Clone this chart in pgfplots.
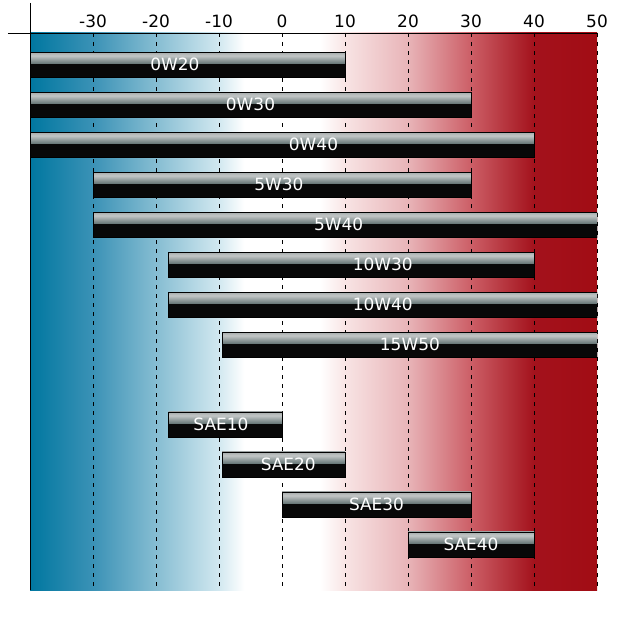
\documentclass[border=0pt]{standalone}
\usepackage{pgfplots}
\pgfplotsset{compat=1.18}
\usepackage{pgfplotstable}
\usepackage{fontspec}
\setmainfont{DejaVu Sans}

\definecolor{cb0}{HTML}{0077A0}
\definecolor{cb1}{HTML}{3B92B6}
\definecolor{cb2}{HTML}{86BDD2}
\definecolor{cb3}{HTML}{D2E8F0}
\definecolor{cr1}{HTML}{F8E4E4}
\definecolor{cr2}{HTML}{E8B4B8}
\definecolor{cr3}{HTML}{CC5E66}
\definecolor{cr4}{HTML}{A3121C}
\definecolor{cr5}{HTML}{A20C14}
\definecolor{barblk}{HTML}{080808}
\definecolor{barg1}{HTML}{667676}
\definecolor{barg2}{HTML}{C2C6C6}
\definecolor{barg3}{HTML}{A4AAAA}

\pgfdeclarehorizontalshading{bgshade}{100bp}{color(0bp)=(cb0); color(25bp)=(cb0); color(30.56bp)=(cb1); color(36.11bp)=(cb2); color(41.67bp)=(cb3); color(43.9bp)=(white); color(50.6bp)=(white); color(52.78bp)=(cr1); color(58.33bp)=(cr2); color(63.89bp)=(cr3); color(69.44bp)=(cr4); color(75bp)=(cr5); color(100bp)=(cr5)}

\pgfdeclareverticalshading{barshade}{100bp}{color(0bp)=(barblk); color(25bp)=(barblk); color(51.5bp)=(barblk); color(52bp)=(barg1); color(68bp)=(barg2); color(75bp)=(barg3); color(100bp)=(barg3)}

\pgfplotstableread{
name   start  end   lx     row
0W20   -40    10    -17    0
0W30   -40    30    -5     1
0W40   -40    40    5      2
5W30   -30    30    -0.5   3
5W40   -30    50    9      4
10W30  -18    40    16     5
10W40  -18    50    16     6
15W50  -9.5   50    20.3   7
SAE10  -18    0     -9.7   9
SAE20  -9.5   10    1      10
SAE30  0      30    15     11
SAE40  20     40    30     12
}\data

\begin{document}
\begin{tikzpicture}
\begin{axis}[
  name=ax,
  scale only axis,
  width=567bp, height=557bp,
  xmin=-40, xmax=50,
  ymin=-0.79, ymax=13.14,
  y dir=reverse,
  axis line style={draw=none},
  xticklabel pos=upper,
  xtick={-30,-20,...,50},
  ytick=\empty,
  major tick length=0pt,
  xmajorgrids,
  grid style={black, dash pattern=on 4bp off 5bp, line width=0.8bp},
  axis background/.style={shade, shading=bgshade},
  tick label style={font=\fontsize{17}{19}\selectfont, text=black},
  xticklabel style={yshift=2bp},
  /pgf/number format/assume math mode=true,
]
\pgfplotsinvokeforeach{0,...,11}{
  \pgfplotstablegetelem{#1}{start}\of\data \let\bs\pgfplotsretval
  \pgfplotstablegetelem{#1}{end}\of\data \let\be\pgfplotsretval
  \pgfplotstablegetelem{#1}{row}\of\data
  \pgfmathsetmacro\yt{\pgfplotsretval-0.3125}
  \pgfmathsetmacro\yb{\pgfplotsretval+0.3125}
  \edef\cmd{\noexpand\addplot[draw=black, line width=0.8bp, mark=none, shade, shading=barshade] coordinates {(\bs,\yt) (\be,\yt) (\be,\yb) (\bs,\yb)} -- cycle;}
  \cmd
}
\addplot[only marks, mark=none,
  nodes near coords, point meta=explicit symbolic,
  nodes near coords style={anchor=center, text=white, font=\fontsize{17}{19}\selectfont}]
  table[x=lx, y=row, meta=name]{\data};
\end{axis}
\draw[black, line width=0.8bp] ([xshift=-22bp]ax.north west) -- (ax.north east);
\draw[black, line width=0.8bp] ([yshift=30bp]ax.north west) -- (ax.south west);
\pgfresetboundingbox
\useasboundingbox ([shift={(-30bp,-33bp)}]ax.south west) rectangle ([shift={(30bp,33bp)}]ax.north east);
\end{tikzpicture}
\end{document}
